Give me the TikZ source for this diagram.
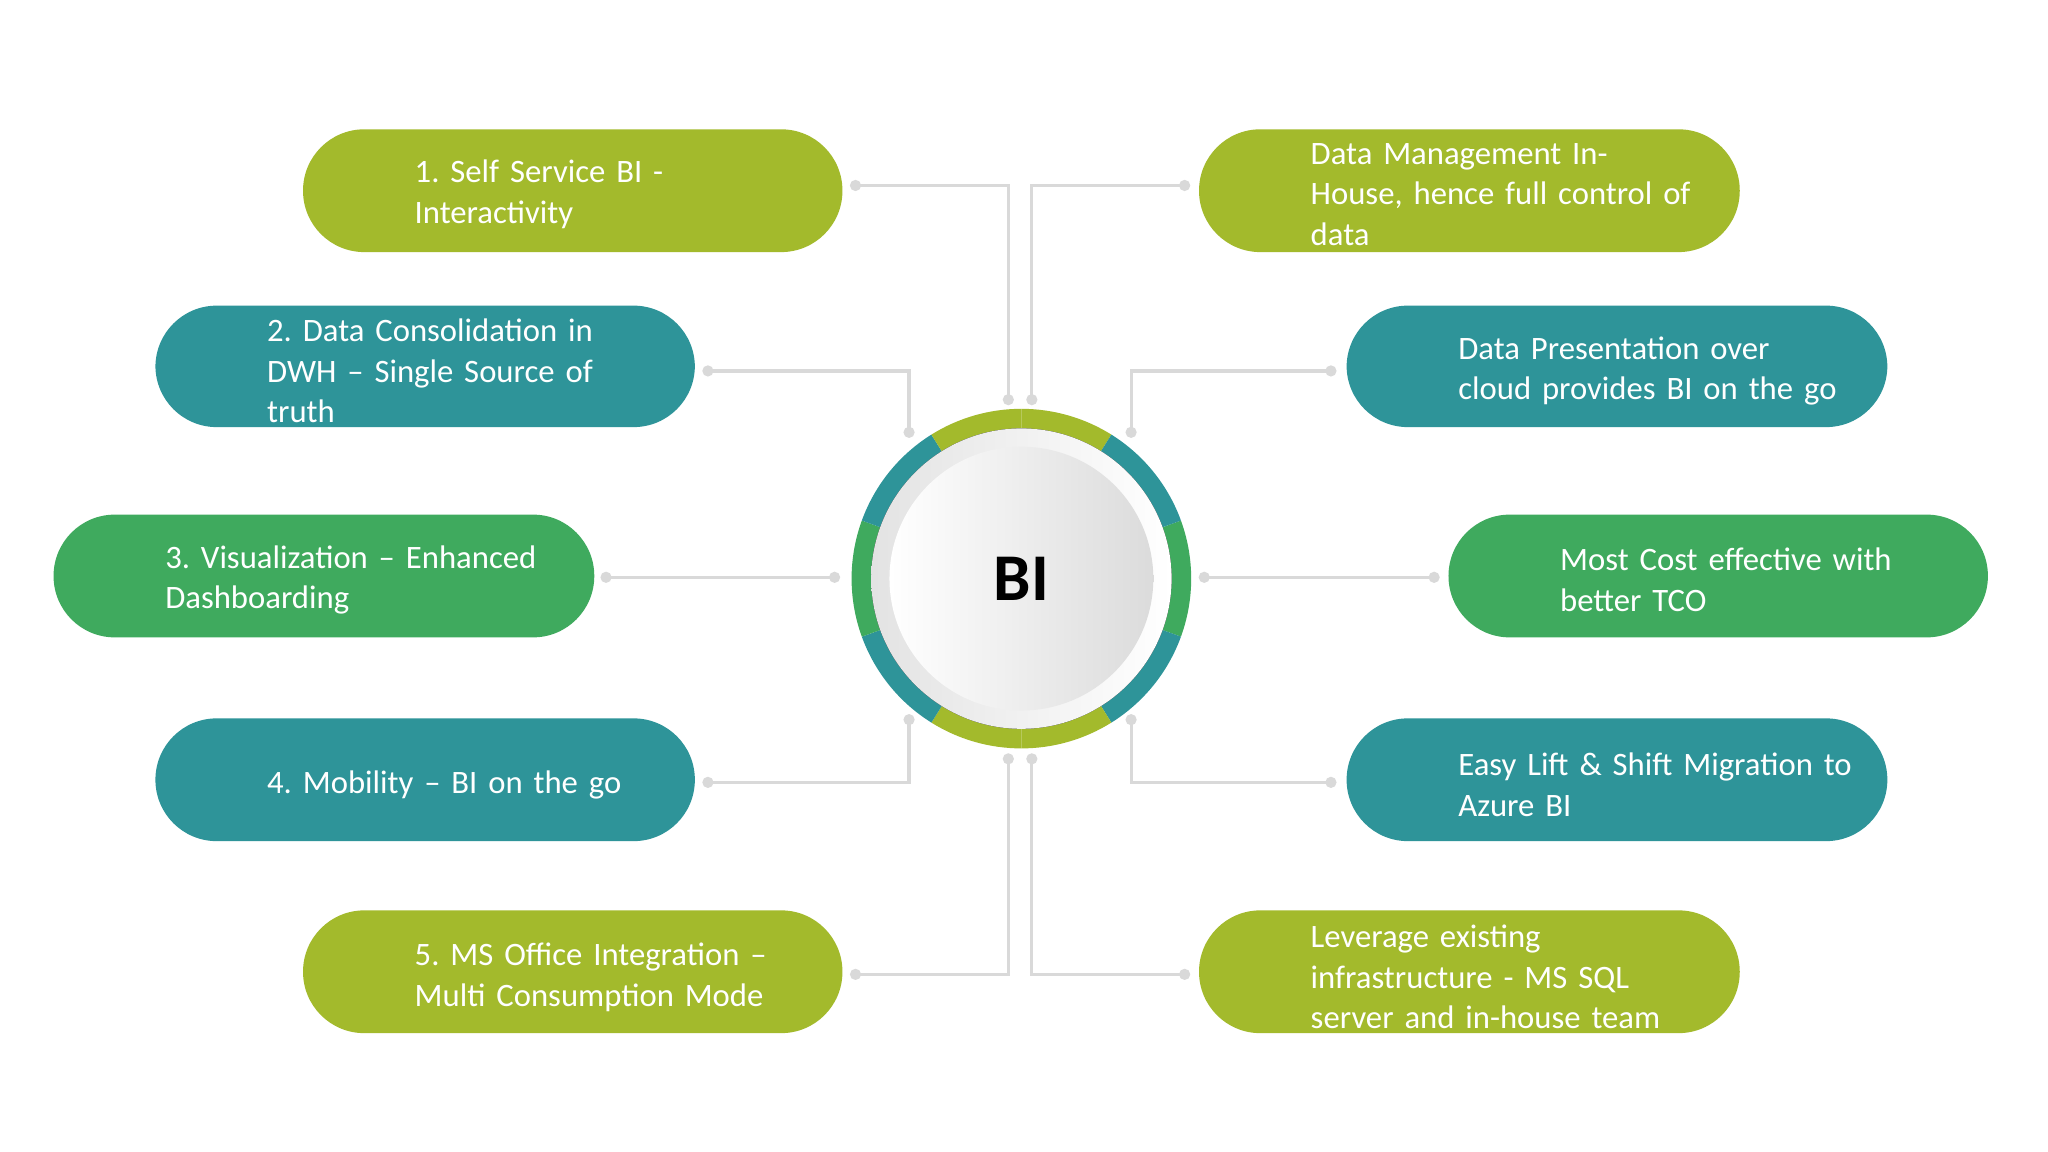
\documentclass[tikz,border=0pt]{standalone}
\usepackage{fontspec}
\setmainfont{Carlito}
\usetikzlibrary{calc}
\begin{document}
\frenchspacing
\begin{tikzpicture}[x=0.01306cm,y=-0.01306cm,
 pill/.style={rounded corners=46.9*0.01306cm},
 lab/.style={anchor=west,align=left,text width=4.4cm,inner sep=0,text=white,font=\fontsize{9.3}{11.6}\selectfont},
 con/.style={draw=gray!30,line width=0.9pt},
 dot/.style={circle,fill=gray!30,inner sep=0,minimum size=3.2pt}]
\definecolor{lime}{HTML}{A3BA2C}
\definecolor{teal}{HTML}{2E9499}
\definecolor{emer}{HTML}{3FAA5E}
\useasboundingbox (0,0) rectangle (1568,882);
\fill[white] (0,0) rectangle (1568,882);
% pills
\fill[lime,pill] (232,99) rectangle (645,193);
\fill[teal,pill] (119,234) rectangle (532,327);
\fill[emer,pill] (41,394) rectangle (455,488);
\fill[teal,pill] (119,550) rectangle (532,644);
\fill[lime,pill] (232,697) rectangle (645,791);
\fill[lime,pill] (918,99) rectangle (1332,193);
\fill[teal,pill] (1031,234) rectangle (1445,327);
\fill[emer,pill] (1109,394) rectangle (1522,488);
\fill[teal,pill] (1031,550) rectangle (1445,644);
\fill[lime,pill] (918,697) rectangle (1332,791);
\node[lab] (l1) at (317,149) {1. Self Service BI -\\Interactivity};
\node[lab] (l2) at (204,284) {2. Data Consolidation in\\DWH -- Single Source of\\truth};
\node[lab] (l3) at (126,444) {3. Visualization -- Enhanced\\Dashboarding};
\node[lab] (l4) at (204,601) {4. Mobility -- BI on the go};
\node[lab] (l5) at (317,748) {5. MS Office Integration --\\Multi Consumption Mode};
\node[lab] (r1) at (1003,149) {Data Management In-\\House, hence full control of\\data};
\node[lab] (r2) at (1116,284) {Data Presentation over\\cloud provides BI on the go};
\node[lab] (r3) at (1194,444) {Most Cost effective with\\better TCO};
\node[lab] (r4) at (1116,601) {Easy Lift \& Shift Migration to\\Azure BI};
\node[lab] (r5) at (1003,748) {Leverage existing\\infrastructure - MS SQL\\server and in-house team};
% ring
\coordinate (c) at (782,443);
\foreach \a/\b/\col in {-20/20/emer,20/58/teal,58/90/lime,90/122/lime,122/160/teal,160/200/emer,200/238/teal,238/270/lime,270/302/lime,302/340/teal}{
 \fill[\col] ($(c)+(\a:130)$) arc[start angle=\a,end angle=\b,radius=130] -- ($(c)+(\b:115)$) arc[start angle=\b,end angle=\a,radius=115] -- cycle;}
\fill[left color=gray!22,right color=white] (c) circle[radius=115];
\node[circle,minimum size=202*0.01306cm,inner sep=0,left color=white,right color=gray!28,font=\bfseries\fontsize{19}{20}\selectfont] (bi) at (c) {BI};
% connectors
\foreach \n/\p/\q/\r in {a1/{655,142}/{772,142}/{772,306}, a2/{542,284}/{696,284}/{696,331}, a4/{542,599}/{696,599}/{696,551}, a5/{655,746}/{772,746}/{772,581}, b1/{907,142}/{790,142}/{790,306}, b2/{1019,284}/{866,284}/{866,331}, b4/{1019,599}/{866,599}/{866,551}, b5/{907,746}/{790,746}/{790,581}}{
 \coordinate (\n s) at (\p); \coordinate (\n e) at (\r);
 \draw[con] (\n s) -- (\q) -- (\n e);
 \node[dot] at (\n s) {}; \node[dot] at (\n e) {};}
\coordinate (a3s) at (464,442); \coordinate (a3e) at (639,442);
\coordinate (b3s) at (1098,442); \coordinate (b3e) at (922,442);
\draw[con] (a3s) -- (a3e); \draw[con] (b3s) -- (b3e);
\foreach \n in {a3s,a3e,b3s,b3e} \node[dot] at (\n) {};
\end{tikzpicture}
\end{document}
